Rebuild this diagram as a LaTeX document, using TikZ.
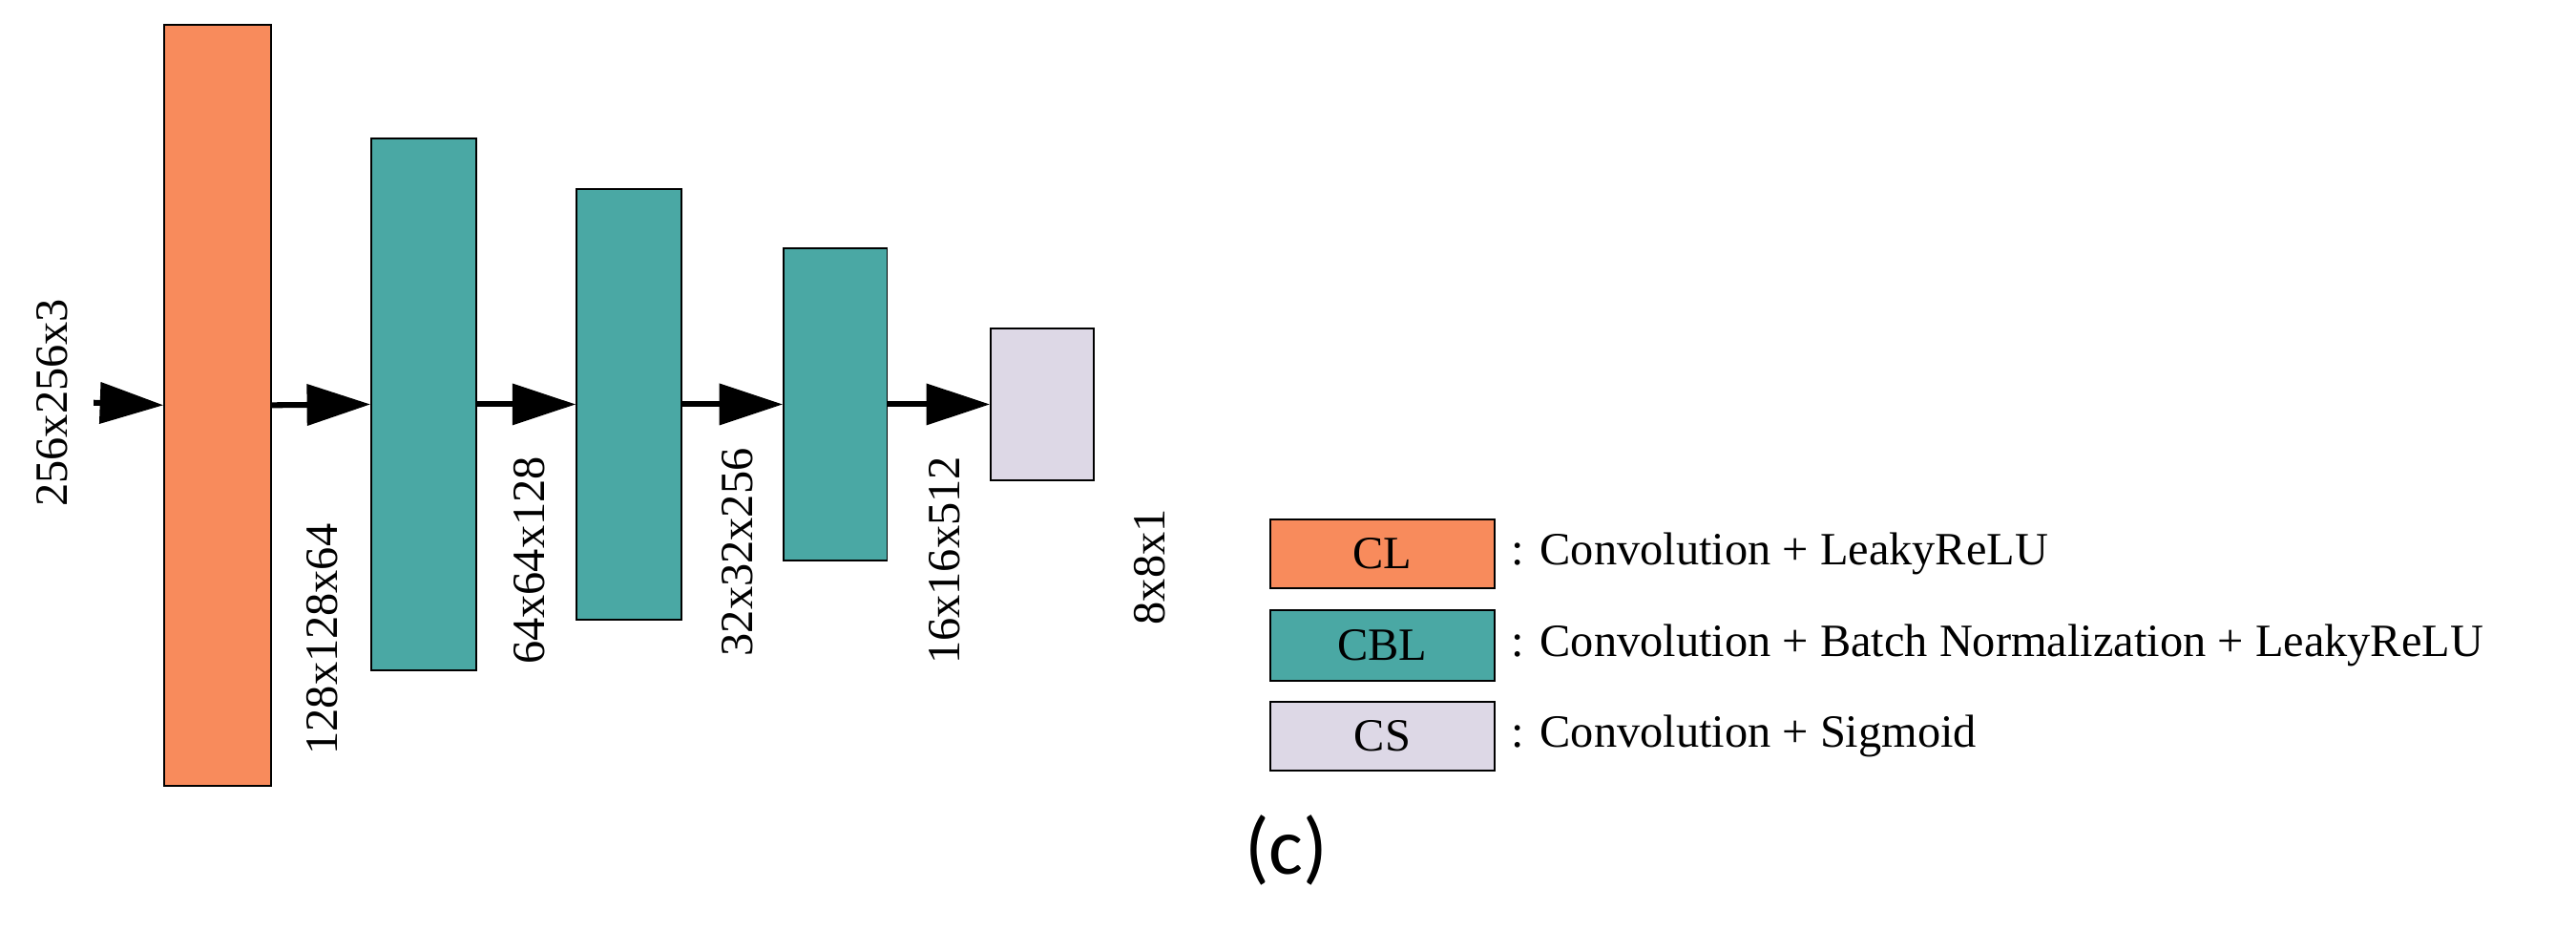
\documentclass[tikz,border=0pt]{standalone}
\usepackage{fontspec}
\setmainfont{Liberation Serif}
\newfontfamily\capfont{Carlito}
\usetikzlibrary{arrows.meta}
\begin{document}
\begin{tikzpicture}[x=0.02cm,y=-0.02cm,
 blk/.style={draw=black,line width=0.6pt,inner sep=0pt},
 cl/.style={blk,fill=orange!70!red!60!white,fill={rgb,255:red,248;green,139;blue,92}},
 cbl/.style={blk,fill={rgb,255:red,74;green,168;blue,164}},
 cs/.style={blk,fill={rgb,255:red,221;green,216;blue,230}},
 arr/.style={line width=2pt,-{Triangle[length=22pt,width=14pt]}},
 dim/.style={rotate=90,font=\fontsize{16}{18}\selectfont},
 leg/.style={anchor=west,font=\fontsize{16}{18}\selectfont}]
\useasboundingbox (0,0) rectangle (1568,566);
\node[cl,minimum width=1.3cm,minimum height=9.26cm] (b1) at (132.5,246.5) {};
\node[cbl,minimum width=1.28cm,minimum height=6.48cm] (b2) at (258,246) {};
\node[cbl,minimum width=1.28cm,minimum height=5.24cm] (b3) at (383,246) {};
\node[cbl,minimum width=1.26cm,minimum height=3.8cm] (b4) at (508.5,246) {};
\node[cs,minimum width=1.26cm,minimum height=1.84cm] (b5) at (634.5,246) {};
\coordinate (s) at (57,245);
\draw[arr] (s) -- (b1.west);
\draw[arr] (b1.east) -- (b2.west);
\draw[arr] (b2.east) -- (b3.west);
\draw[arr] (b3.east) -- (b4.west);
\draw[arr] (b4.east) -- (b5.west);
\node[dim] (l0) at (32,245) {256x256x3};
\node[dim] (l1) at (196,389) {128x128x64};
\node[dim] (l2) at (322,341) {64x64x128};
\node[dim] (l3) at (449,336) {32x32x256};
\node[dim] (l4) at (575,341) {16x16x512};
\node[dim] (l5) at (700,345) {8x8x1};
\node[cl,minimum width=2.74cm,minimum height=0.84cm,font=\fontsize{16}{18}\selectfont] (k1) at (841.5,337) {CL};
\node[cbl,minimum width=2.74cm,minimum height=0.86cm,font=\fontsize{16}{18}\selectfont] (k2) at (841.5,392.5) {CBL};
\node[cs,minimum width=2.74cm,minimum height=0.84cm,font=\fontsize{16}{18}\selectfont] (k3) at (841.5,448) {CS};
\node[leg] (t1) at (914,337) {: Convolution + LeakyReLU};
\node[leg] (t2) at (914,392.5) {: Convolution + Batch Normalization + LeakyReLU};
\node[leg] (t3) at (914,448) {: Convolution + Sigmoid};
\node[font=\capfont\fontsize{28}{30}\selectfont] (c) at (783,517) {(c)};
\end{tikzpicture}
\end{document}
